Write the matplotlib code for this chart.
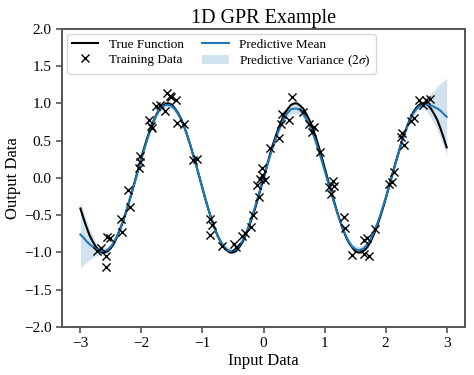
import numpy as np
import matplotlib
matplotlib.use("Agg")
import matplotlib.pyplot as plt
from matplotlib.patches import Patch
from matplotlib.lines import Line2D

# grid the curves were read on (x from -3 to 3, step 0.05)
x_grid = np.linspace(-3, 3, 121)

true_function = [
    -0.41, -0.54, -0.66, -0.77, -0.85, -0.92, -0.97, -1.00, -1.00, -0.98,
    -0.94, -0.88, -0.79, -0.69, -0.58, -0.45, -0.31, -0.17, -0.02, 0.13,
    0.28, 0.42, 0.55, 0.67, 0.77, 0.86, 0.93, 0.97, 1.00, 1.00,
    0.98, 0.93, 0.87, 0.79, 0.69, 0.57, 0.44, 0.30, 0.16, 0.01,
    -0.14, -0.29, -0.43, -0.56, -0.68, -0.78, -0.86, -0.93, -0.97, -1.00,
    -1.00, -0.98, -0.93, -0.87, -0.78, -0.68, -0.56, -0.44, -0.30, -0.15,
    0.00, 0.15, 0.30, 0.44, 0.56, 0.68, 0.78, 0.87, 0.93, 0.98,
    1.00, 1.00, 0.97, 0.93, 0.86, 0.78, 0.68, 0.56, 0.43, 0.29,
    0.14, -0.01, -0.16, -0.30, -0.44, -0.57, -0.69, -0.79, -0.87, -0.93,
    -0.98, -1.00, -1.00, -0.97, -0.93, -0.86, -0.77, -0.67, -0.55, -0.42,
    -0.28, -0.13, 0.02, 0.17, 0.31, 0.45, 0.58, 0.69, 0.79, 0.88,
    0.94, 0.98, 1.00, 1.00, 0.97, 0.92, 0.85, 0.77, 0.66, 0.54,
    0.41,
]

pred_mean = [
    -0.76, -0.80, -0.85, -0.89, -0.92, -0.95, -0.97, -0.98, -0.98, -0.96,
    -0.92, -0.86, -0.78, -0.68, -0.57, -0.45, -0.31, -0.17, -0.03, 0.12,
    0.26, 0.40, 0.53, 0.65, 0.76, 0.85, 0.92, 0.96, 0.98, 0.98,
    0.96, 0.92, 0.86, 0.78, 0.69, 0.57, 0.44, 0.30, 0.16, 0.01,
    -0.14, -0.29, -0.43, -0.56, -0.68, -0.78, -0.86, -0.92, -0.96, -0.98,
    -0.98, -0.96, -0.91, -0.85, -0.76, -0.66, -0.54, -0.42, -0.28, -0.14,
    0.00, 0.14, 0.28, 0.41, 0.53, 0.64, 0.74, 0.82, 0.88, 0.92,
    0.93, 0.93, 0.91, 0.86, 0.79, 0.71, 0.61, 0.50, 0.37, 0.24,
    0.10, -0.04, -0.18, -0.32, -0.45, -0.57, -0.68, -0.78, -0.86, -0.92,
    -0.95, -0.97, -0.96, -0.94, -0.89, -0.83, -0.74, -0.64, -0.53, -0.40,
    -0.27, -0.13, 0.02, 0.16, 0.30, 0.44, 0.57, 0.68, 0.78, 0.86,
    0.92, 0.96, 0.98, 0.99, 0.98, 0.97, 0.95, 0.93, 0.90, 0.86,
    0.82,
]

# two standard deviations
pred_2sigma = [
    0.45, 0.36, 0.28, 0.21, 0.15, 0.10, 0.07, 0.05, 0.04, 0.04,
    0.04, 0.04, 0.04, 0.04, 0.04, 0.04, 0.04, 0.04, 0.04, 0.04,
    0.04, 0.04, 0.04, 0.04, 0.04, 0.04, 0.04, 0.04, 0.04, 0.04,
    0.04, 0.04, 0.04, 0.04, 0.04, 0.04, 0.04, 0.04, 0.04, 0.04,
    0.04, 0.04, 0.04, 0.04, 0.04, 0.04, 0.04, 0.04, 0.04, 0.04,
    0.04, 0.04, 0.04, 0.04, 0.04, 0.04, 0.04, 0.04, 0.04, 0.04,
    0.04, 0.04, 0.04, 0.04, 0.04, 0.04, 0.05, 0.06, 0.06, 0.07,
    0.07, 0.07, 0.06, 0.06, 0.05, 0.04, 0.04, 0.04, 0.04, 0.04,
    0.04, 0.04, 0.04, 0.04, 0.04, 0.04, 0.04, 0.04, 0.04, 0.04,
    0.05, 0.05, 0.05, 0.05, 0.04, 0.04, 0.04, 0.04, 0.04, 0.04,
    0.04, 0.04, 0.04, 0.04, 0.04, 0.04, 0.04, 0.04, 0.04, 0.04,
    0.04, 0.04, 0.05, 0.08, 0.12, 0.17, 0.23, 0.30, 0.37, 0.44,
    0.52,
]

train_x = [
    -2.73, -2.66, -2.58, -2.58, -2.57, -2.51, -2.34, -2.32, -2.18, -2.22,
    -2.04, -2.02, -2.03, -1.88, -1.85, -1.82, -1.76, -1.69, -1.61, -1.58,
    -1.53, -1.51, -1.44, -1.41, -1.31, -1.15, -1.09, -0.87, -0.84, -0.87,
    -0.68, -0.49, -0.45, -0.35, -0.30, -0.21, -0.18, -0.02, -0.03, -0.05,
    0.03, -0.10, -0.07, 0.11, 0.25, 0.28, 0.31, 0.41, 0.47, 0.64,
    0.75, 0.83, 0.80, 0.93, 1.13, 1.07, 1.15, 1.11, 1.32, 1.34,
    1.45, 1.65, 1.69, 1.64, 1.72, 1.83, 2.05, 2.10, 2.14, 2.25,
    2.27, 2.30, 2.41, 2.46, 2.55, 2.62, 2.66, 2.72,
]
train_y = [
    -0.98, -0.94, -1.05, -1.19, -0.79, -0.81, -0.55, -0.72, -0.39, -0.16,
    0.13, 0.22, 0.29, 0.78, 0.70, 0.67, 0.96, 0.98, 0.90, 1.14,
    1.10, 1.08, 1.04, 0.74, 0.73, 0.24, 0.25, -0.55, -0.63, -0.77,
    -0.91, -0.88, -0.92, -0.78, -0.74, -0.66, -0.50, 0.14, 0.04, -0.02,
    -0.03, -0.09, -0.25, 0.40, 0.53, 0.72, 0.86, 0.78, 1.09, 0.89,
    0.72, 0.69, 0.62, 0.35, -0.04, -0.12, -0.11, -0.21, -0.53, -0.67,
    -1.03, -0.83, -0.81, -1.02, -1.05, -0.69, -0.08, -0.05, 0.08, 0.55,
    0.60, 0.44, 0.76, 0.81, 1.05, 0.98, 1.04, 1.06,
]

plt.rcParams['font.family'] = ['Liberation Serif', 'DejaVu Serif']
plt.rcParams['mathtext.fontset'] = 'stix'

mean = np.array(pred_mean)
band = np.array(pred_2sigma)

fig = plt.figure(figsize=(4.74, 3.75), dpi=100)
ax = fig.add_axes([0.131, 0.128, 0.850, 0.795])

ax.fill_between(x_grid, mean - band, mean + band, color='#1f77b4', alpha=0.2,
                linewidth=0)
ax.plot(x_grid, true_function, color='black', lw=1.5)
ax.plot(x_grid, mean, color='#1f77b4', lw=1.5)
ax.scatter(train_x, train_y, marker='x', color='black', s=34, linewidths=1.0,
           zorder=5)

ax.set_xlim(-3.3, 3.3)
ax.set_ylim(-2.0, 2.0)
ax.set_xticks([-3, -2, -1, 0, 1, 2, 3])
ax.set_yticks(np.arange(-2.0, 2.01, 0.5))
ax.set_yticklabels([f'{v:.1f}'.replace('-', '\u2212') for v in np.arange(-2.0, 2.01, 0.5)])
ax.tick_params(labelsize=11, direction='out', length=4, width=1.2,
               color='#555555')
for s in ax.spines.values():
    s.set_color('#555555')
    s.set_linewidth(1.4)

ax.set_title('1D GPR Example', fontsize=14.5, pad=4)
ax.set_xlabel('Input Data', fontsize=12, labelpad=2)
ax.set_ylabel('Output Data', fontsize=12, labelpad=2)

handles = [
    Line2D([], [], color='black', lw=1.5),
    Line2D([], [], color='black', marker='x', linestyle='none', markersize=6),
    Line2D([], [], color='#1f77b4', lw=1.5),
    Patch(facecolor='#1f77b4', alpha=0.2, edgecolor='none'),
]
labels = ['True Function', 'Training Data', 'Predictive Mean',
          r'Predictive Variance ($2\sigma$)']
ax.legend(handles, labels, ncol=2, loc='upper left', fontsize=9.5,
          frameon=True, edgecolor='#cccccc', borderaxespad=0.4,
          columnspacing=1.4, handlelength=2.0, labelspacing=0.2,
          borderpad=0.35)

plt.savefig('out.png', dpi=100)
